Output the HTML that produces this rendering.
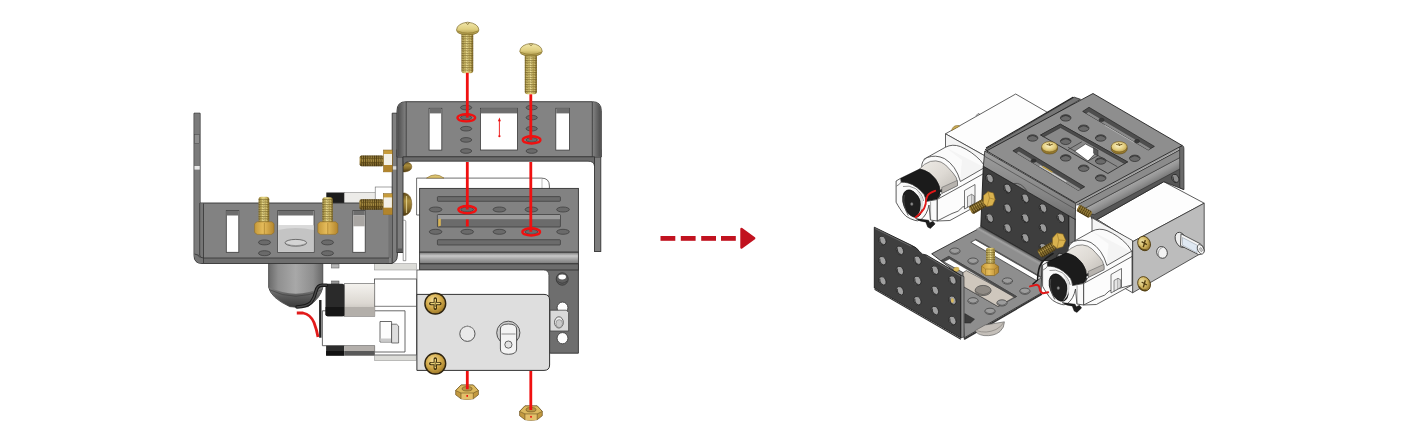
<!DOCTYPE html>
<html lang="en">
<head>
<meta charset="utf-8">
<title>Assembly step</title>
<style>
html,body{margin:0;padding:0;background:#fff;}
body{width:1410px;height:446px;overflow:hidden;font-family:"Liberation Sans",sans-serif;}
svg{display:block;}
</style>
</head>
<body>
<svg width="1410" height="446" viewBox="0 0 1410 446">
<defs>
  <linearGradient id="brassV" x1="0" y1="0" x2="1" y2="0">
    <stop offset="0" stop-color="#86702c"/><stop offset="0.25" stop-color="#d6c46e"/><stop offset="0.5" stop-color="#e6d688"/><stop offset="0.78" stop-color="#c4ae58"/><stop offset="1" stop-color="#7c6526"/>
  </linearGradient>
  <linearGradient id="brassH" x1="0" y1="0" x2="0" y2="1">
    <stop offset="0" stop-color="#5e4a1a"/><stop offset="0.35" stop-color="#a98c3c"/><stop offset="0.65" stop-color="#8a6f2c"/><stop offset="1" stop-color="#4e3b12"/>
  </linearGradient>
  <linearGradient id="nutG" x1="0" y1="0" x2="1" y2="0">
    <stop offset="0" stop-color="#c4983a"/><stop offset="0.45" stop-color="#e6bd5c"/><stop offset="1" stop-color="#b3852c"/>
  </linearGradient>
  <radialGradient id="headG" cx="0.42" cy="0.32" r="0.75">
    <stop offset="0" stop-color="#f0e3a6"/><stop offset="0.55" stop-color="#cdb05a"/><stop offset="1" stop-color="#7e6222"/>
  </radialGradient>
  <radialGradient id="headL" cx="0.45" cy="0.4" r="0.7">
    <stop offset="0" stop-color="#fbf3c8"/><stop offset="0.55" stop-color="#e2cc7c"/><stop offset="1" stop-color="#a98a3a"/>
  </radialGradient>
  <linearGradient id="panG" x1="0" y1="0" x2="0" y2="1">
    <stop offset="0" stop-color="#f2e8ac"/><stop offset="0.55" stop-color="#e0cf80"/><stop offset="1" stop-color="#a89244"/>
  </linearGradient>
  <radialGradient id="headD" cx="0.42" cy="0.35" r="0.75">
    <stop offset="0" stop-color="#f6e09a"/><stop offset="0.5" stop-color="#d0a848"/><stop offset="1" stop-color="#8a661e"/>
  </radialGradient>
  <linearGradient id="motorG" x1="0" y1="0" x2="1" y2="0">
    <stop offset="0" stop-color="#6a6a6a"/><stop offset="0.18" stop-color="#909090"/><stop offset="0.5" stop-color="#a8a8a8"/><stop offset="0.82" stop-color="#8e8e8e"/><stop offset="1" stop-color="#686868"/>
  </linearGradient>
  <linearGradient id="domeG" x1="0" y1="0" x2="0" y2="1">
    <stop offset="0" stop-color="#7e7e7e"/><stop offset="0.5" stop-color="#585858"/><stop offset="1" stop-color="#3a3a3a"/>
  </linearGradient>
  <linearGradient id="bendL" x1="0" y1="0" x2="1" y2="0">
    <stop offset="0" stop-color="#4c4c4c"/><stop offset="1" stop-color="#848484"/>
  </linearGradient>
  <linearGradient id="bendR" x1="1" y1="0" x2="0" y2="0">
    <stop offset="0" stop-color="#4c4c4c"/><stop offset="1" stop-color="#848484"/>
  </linearGradient>
  <linearGradient id="stripG" x1="0" y1="0" x2="0" y2="1">
    <stop offset="0" stop-color="#767676"/><stop offset="0.32" stop-color="#c8c8c8"/><stop offset="0.65" stop-color="#9e9e9e"/><stop offset="1" stop-color="#7a7a7a"/>
  </linearGradient>
  <linearGradient id="canG" x1="0" y1="0" x2="0" y2="1">
    <stop offset="0" stop-color="#f4f2ee"/><stop offset="0.6" stop-color="#dcd8d2"/><stop offset="1" stop-color="#b4b0aa"/>
  </linearGradient>
    <linearGradient id="rcan" x1="0" y1="0" x2="1" y2="1">
    <stop offset="0" stop-color="#eeebe6"/><stop offset="0.5" stop-color="#dedad4"/><stop offset="1" stop-color="#bcb8b2"/>
  </linearGradient>
  <linearGradient id="lipG" x1="0" y1="0" x2="0.35" y2="1">
    <stop offset="0" stop-color="#b2b2b2"/><stop offset="0.5" stop-color="#8c8c8c"/><stop offset="1" stop-color="#5a5a5a"/>
  </linearGradient>
  <linearGradient id="lipG2" gradientUnits="userSpaceOnUse" x1="1100" y1="200.2" x2="1104.75" y2="209.03">
    <stop offset="0" stop-color="#a6a6a6"/><stop offset="0.45" stop-color="#969696"/><stop offset="1" stop-color="#7a7a7a"/>
  </linearGradient>
  <linearGradient id="bendBase" gradientUnits="userSpaceOnUse" x1="1010" y1="243" x2="1007.2" y2="248">
    <stop offset="0" stop-color="#4e4e4e"/><stop offset="0.5" stop-color="#a0a0a0"/><stop offset="1" stop-color="#8e8e8e"/>
  </linearGradient>
  <linearGradient id="bendSW" x1="0.3" y1="0" x2="0" y2="1">
    <stop offset="0" stop-color="#a4a4a4"/><stop offset="0.5" stop-color="#848484"/><stop offset="1" stop-color="#555555"/>
  </linearGradient>
  <pattern id="thr" width="4" height="2.4" patternUnits="userSpaceOnUse">
    <path d="M0 0.5H4" stroke="#5e4c16" stroke-width="0.8" opacity="0.7"/>
    <rect x="0.6" y="1.2" width="1" height="0.9" fill="#6a5418" opacity="0.55"/>
    <rect x="2.4" y="1.4" width="0.9" height="0.8" fill="#fff6c4" opacity="0.55"/>
    <rect x="3.2" y="0.9" width="0.7" height="0.8" fill="#5a4712" opacity="0.5"/>
  </pattern>
  <pattern id="thrH" width="2.2" height="4" patternUnits="userSpaceOnUse">
    <path d="M0.5 0V4" stroke="#3e2e0a" stroke-width="0.9" opacity="0.8"/>
    <rect x="1.2" y="0.5" width="0.8" height="1" fill="#e0c878" opacity="0.65"/>
    <rect x="1.3" y="2.3" width="0.8" height="1" fill="#33260a" opacity="0.6"/>
    <rect x="0.9" y="3.2" width="0.7" height="0.7" fill="#d8bf70" opacity="0.5"/>
  </pattern>
</defs>
<rect width="1410" height="446" fill="#ffffff"/>

<!-- ================= LEFT ASSEMBLY ================= -->
<g id="left">

<!-- gearbox white body behind -->
<g stroke="#4a4a4a" stroke-width="0.8">
  <path d="M416.6 178.1 H541.5 Q549.4 178.1 549.4 186 V215 H416.6Z" fill="#ffffff"/><path d="M542 178.3 V190" fill="none" stroke="#777" stroke-width="0.5"/>
  <rect x="374.5" y="279" width="42" height="76" fill="#ffffff"/>
  <rect x="374.4" y="263.7" width="42.1" height="6.3" fill="#dcdcd8" stroke="#8a8a8a" stroke-width="0.5"/>
  <rect x="374.6" y="355.6" width="41.6" height="5" fill="#dcdcd8" stroke="#8a8a8a" stroke-width="0.5"/>
  <path d="M374.6 306.3 H416.5" fill="none" stroke="#444" stroke-width="0.7"/>
</g>

<!-- motor end (behind left bracket, above plate) -->
<rect x="326.3" y="192.5" width="18" height="11" fill="#1c1c1c"/>
<rect x="344.2" y="192.5" width="48" height="11" fill="#ecebe8" stroke="#777" stroke-width="0.5"/>
<rect x="375.2" y="187" width="17" height="16.5" fill="#fff" stroke="#666" stroke-width="0.6"/>

<!-- round motor under left bracket -->
<path d="M268.6 262 H322.8 V287.3 Q321 298 308 306.6 Q299 308.4 289.6 306.6 Q271 298 268.6 287.3Z" fill="url(#motorG)" stroke="#333" stroke-width="0.7"/>
<path d="M268.9 287.3 Q272 298 289.6 306.4 Q299 308 308 306.4 Q320.5 298 322.5 287.3 Q296 300 268.9 287.3Z" fill="url(#domeG)"/>
<path d="M269 289.5 Q296 303 322.5 289.5" fill="none" stroke="#333" stroke-width="0.6" opacity="0.8"/>
<!-- LEFT U BRACKET -->
<g stroke="#333" stroke-width="0.9">
  <path d="M392.2 113.2 H397.4 V255 Q397.4 263.5 389 263.5 H386 V203 H392.2Z" fill="#7f7f7f"/>
  <path d="M194 113.2 H200.1 V203 H392.2 V263.5 H202 Q194 263.5 194 255.5Z" fill="#828282"/>
</g>
<rect x="194.5" y="113.7" width="5.1" height="143" fill="#7b7b7b"/>
<rect x="199.8" y="203.5" width="3.7" height="54.5" fill="#767676"/>
<rect x="388.4" y="203.5" width="3.6" height="54.5" fill="#727272"/>
<path d="M203.5 258 H389 V263 H203.5Z" fill="#6e6e6e"/>
<path d="M194.6 256 Q195 263 202.5 263 H203.5 V258 Q199.8 258 199.8 254 H194.6Z" fill="#747474"/>
<path d="M199.7 203 V255 Q199.7 258 203.5 258 H389 M203.5 203.5 V263 M194.6 254 Q199 254.5 199.8 257.5" fill="none" stroke="#333" stroke-width="0.8"/>
<!-- wall notches -->
<rect x="194.5" y="134.6" width="5.2" height="9" fill="#8e8e8e" stroke="#444" stroke-width="0.5"/>
<rect x="194.5" y="166" width="5.2" height="3.6" fill="#e8e8e8"/>
<rect x="392.6" y="166.2" width="4" height="3.4" fill="#d9d9d9"/>

<!-- slots of left bracket -->
<g stroke="#3a3a3a" stroke-width="0.8">
  <rect x="226.3" y="210.6" width="12.5" height="41.7" fill="#ffffff"/>
  <rect x="277.7" y="210.6" width="36.3" height="41.7" fill="#ffffff"/>
  <rect x="352.8" y="210.6" width="12.4" height="41.7" fill="#ffffff"/>
</g>
<rect x="226.7" y="211" width="11.7" height="4.5" fill="#6e6e6e"/>
<rect x="278.1" y="211" width="35.5" height="4.5" fill="#6e6e6e"/>
<rect x="353.2" y="211" width="11.6" height="4.5" fill="#6e6e6e"/>
<rect x="353.2" y="215.5" width="11.6" height="10.8" fill="#a9a6a3"/>
<!-- motor top visible through square -->
<rect x="278.1" y="225.4" width="35.5" height="26.5" fill="#c4c4c4"/>
<path d="M278.1 225.4 H313.6 V230 Q296 226 278.1 230Z" fill="#d9d9d9"/>
<ellipse cx="295.8" cy="242.8" rx="10.8" ry="3.4" fill="#d4d4d4" stroke="#555" stroke-width="0.8"/>
<path d="M286 243.8 Q295.8 247.5 305.6 243.8" fill="none" stroke="#8a8a8a" stroke-width="0.7"/>
<!-- small holes -->
<g fill="#6a6a6a" stroke="#3a3a3a" stroke-width="0.7">
  <ellipse cx="264.5" cy="242.4" rx="6" ry="2.5"/>
  <ellipse cx="264.5" cy="253.2" rx="6" ry="2.5"/>
  <ellipse cx="327.5" cy="242.4" rx="6" ry="2.5"/>
  <ellipse cx="327.5" cy="253.2" rx="6" ry="2.5"/>
</g>

<!-- vertical standoffs on left bracket -->
<g id="so1">
  <rect x="258.6" y="196.8" width="10.6" height="26.5" rx="2.5" fill="url(#brassV)"/>
  <rect x="258.6" y="198.5" width="10.6" height="24.5" fill="url(#thr)"/>
  <path d="M254.6 223.8 L257 221.8 H272 L274.1 223.8 V232.4 L271.5 234.4 H257.2 L254.6 232.4Z" fill="url(#nutG)" stroke="#8a6820" stroke-width="0.5"/>
  <path d="M264.3 223 V234" stroke="#9c7424" stroke-width="0.6"/>
</g>
<g id="so2">
  <rect x="322.4" y="197.2" width="10.4" height="26" rx="2.5" fill="url(#brassV)"/>
  <rect x="322.4" y="198.8" width="10.4" height="24.4" fill="url(#thr)"/>
  <path d="M317.8 223.8 L320.2 221.8 H335.6 L337.9 223.8 V232.4 L335.4 234.4 H320.4 L317.8 232.4Z" fill="url(#nutG)" stroke="#8a6820" stroke-width="0.5"/>
  <path d="M327.8 223 V234" stroke="#9c7424" stroke-width="0.6"/>
</g>

<!-- horizontal standoffs through walls -->
<g id="hso1">
  <rect x="359.6" y="155.6" width="24.2" height="10.6" rx="2" fill="url(#brassH)"/>
  <rect x="361" y="155.6" width="22.8" height="10.6" fill="url(#thrH)"/>
  <rect x="383.5" y="150" width="8.8" height="21.9" fill="#c79c3c" stroke="#7c5d1c" stroke-width="0.5"/>
  <rect x="383.8" y="154" width="8.2" height="11" fill="#f3f0e6"/>
  <rect x="383.8" y="165" width="8.2" height="6.6" fill="#b1842c"/>
</g>
<g id="hso2">
  <rect x="359.4" y="199.3" width="24.2" height="10.4" rx="2" fill="url(#brassH)"/>
  <rect x="361" y="199.3" width="22.6" height="10.4" fill="url(#thrH)"/>
  <rect x="383.3" y="193.6" width="8.9" height="21" fill="#c79c3c" stroke="#7c5d1c" stroke-width="0.5"/>
  <rect x="383.6" y="197.4" width="8.3" height="10.4" fill="#f3f0e6"/>
  <rect x="383.6" y="207.8" width="8.3" height="6.6" fill="#b1842c"/>
</g>

<!-- screw heads right of upper bracket left wall -->
<path d="M402.8 161.5 H405 Q411.8 162.5 411.8 166.8 Q411.8 171 405 171.9 H402.8Z" fill="url(#brassH)" stroke="#6a4f16" stroke-width="0.5"/>
<path d="M402.8 193 H405 Q411.8 195 411.8 204.2 Q411.8 213.5 405 215.5 H402.8Z" fill="url(#brassH)" stroke="#6a4f16" stroke-width="0.5"/>
<path d="M406.5 196 V213" stroke="#f4e6a6" stroke-width="1.2" opacity="0.7"/>
<!-- brass dome on top of white body -->
<path d="M426.5 178.1 Q435.3 171.5 444 178.1Z" fill="#dcc471" stroke="#7a5c1c" stroke-width="0.5"/>

<!-- LOWER L BRACKET -->
<g stroke="#333" stroke-width="0.9">
  <!-- column -->
  <path d="M543 264 H578.4 V353.2 H551 Q543 353.2 543 346 Z" fill="#6e6e6e"/>
  <rect x="419.6" y="188.4" width="158.8" height="63.8" fill="#828282"/>
  <rect x="419.6" y="263.7" width="158.8" height="6.3" fill="#6c6c6c"/>
  <rect x="419.6" y="252.2" width="158.8" height="11.5" fill="url(#stripG)"/>
</g>
<!-- lower bracket slots -->
<g fill="#6b6b6b" stroke="#3a3a3a" stroke-width="0.7">
  <rect x="437.4" y="196.6" width="123" height="4.7" rx="0.8"/>
  <rect x="437.4" y="214.6" width="123" height="12.4" rx="0.8"/>
  <rect x="437.4" y="239.7" width="123" height="5.3" rx="0.8"/>
</g>
<rect x="437.8" y="215" width="122.2" height="4.2" fill="#9b9b9b"/>
<path d="M438.2 219.2 L440.8 218.4 L440.8 225.8 L438.2 226.6Z" fill="#d8b455"/>
<g fill="#6a6a6a" stroke="#3a3a3a" stroke-width="0.7">
  <ellipse cx="435.6" cy="209.5" rx="6.3" ry="2.5"/>
  <ellipse cx="467.2" cy="209.5" rx="6.3" ry="2.5"/>
  <ellipse cx="499.4" cy="209.5" rx="6.3" ry="2.5"/>
  <ellipse cx="531.4" cy="209.5" rx="6.3" ry="2.5"/>
  <ellipse cx="563" cy="209.5" rx="6.3" ry="2.5"/>
  <ellipse cx="435.6" cy="231.8" rx="6.3" ry="2.5"/>
  <ellipse cx="467.2" cy="231.8" rx="6.3" ry="2.5"/>
  <ellipse cx="499.4" cy="231.8" rx="6.3" ry="2.5"/>
  <ellipse cx="531.4" cy="231.8" rx="6.3" ry="2.5"/>
  <ellipse cx="563" cy="231.8" rx="6.3" ry="2.5"/>
</g>
<!-- column holes -->
<g stroke="#333" stroke-width="0.8">
  <ellipse cx="562.2" cy="279" rx="6" ry="6.2" fill="#5e5e5e"/>
  <ellipse cx="562.2" cy="277" rx="3.8" ry="2.4" fill="#fff" stroke="none"/>
  <path d="M557.2 281 Q562.2 285.5 567.2 281" fill="none" stroke="#333" stroke-width="0.7"/>
  <ellipse cx="562.5" cy="307.7" rx="5.4" ry="5.6" fill="#fff"/>
  <ellipse cx="562.5" cy="338.2" rx="5.4" ry="5.6" fill="#fff"/>
</g>
<!-- tab -->
<path d="M550 310.2 H566.5 L568.6 312.5 V331 H550Z" fill="#d9d9d9" stroke="#444" stroke-width="0.8"/>
<ellipse cx="558.9" cy="322.4" rx="4.4" ry="5.6" fill="#efefef" stroke="#444" stroke-width="0.8"/>
<ellipse cx="559.2" cy="323.6" rx="3.3" ry="4" fill="#c9c9c9" stroke="#666" stroke-width="0.5"/>

<!-- gearbox white top (behind plate) -->
<path d="M416.9 270 H543.5 Q548.9 270 548.9 275.5 V296 H416.9Z" fill="#ffffff" stroke="#444" stroke-width="0.8"/>

<!-- motor 2 (horizontal) -->
<path d="M322.4 310.8 H405 V352 H374.6 V345.7 H322.4Z" fill="#ffffff" stroke="#444" stroke-width="0.8"/>
<rect x="331.5" y="264" width="7.5" height="4" fill="#b5b5b5" stroke="#555" stroke-width="0.5"/>
<rect x="331.7" y="281" width="7.3" height="3" fill="#9a9a9a" stroke="#444" stroke-width="0.5"/>
<rect x="344.3" y="283.7" width="30.5" height="32.5" fill="url(#canG)" stroke="#555" stroke-width="0.6"/>
<rect x="344.3" y="307" width="30.5" height="9.2" fill="#b3afaa"/>
<rect x="325.5" y="283.7" width="18.8" height="32.5" rx="2" fill="#2a2a2a"/>
<path d="M325.5 307 H344.3 V316.2 H327.5 Q325.5 316.2 325.5 314.2Z" fill="#161616"/>
<rect x="326.1" y="345.7" width="18.2" height="9.9" fill="#2c2c2c"/>
<rect x="326.1" y="351" width="18.2" height="4.6" fill="#111111"/>
<rect x="344.3" y="345.7" width="30.3" height="9.9" fill="#b3afab"/>
<rect x="344.3" y="351" width="30.3" height="4.6" fill="#595959"/>
<path d="M320.3 300 V337.7" stroke="#222" stroke-width="2.4" fill="none"/>
<!-- connector -->
<path d="M380 321.5 H391.6 V342 H380Z" fill="#fdfdfd" stroke="#444" stroke-width="0.8"/><rect x="380.5" y="338.5" width="10.6" height="3.2" fill="#c9c9c9"/><path d="M391.6 324.2 H396.5 L398.6 326 V343 H391.6Z" fill="#dedede" stroke="#444" stroke-width="0.7"/>
<!-- wires -->
<path d="M297 307 Q307 306.5 311 302.5 Q314.5 298 316 291 Q317.5 285.3 322 285.2 H326.5" fill="none" stroke="#1a1a1a" stroke-width="3.4" stroke-linecap="round"/>
<path d="M297 307 Q307 306.5 311 302.5 Q314.5 298 316 291 Q317.5 285.3 322 285.2 H326.5" fill="none" stroke="#4a4a4a" stroke-width="1.3" stroke-linecap="round"/>
<path d="M296.8 313 H303 Q310.5 314.5 314 322.5 Q316.8 330 318 337" fill="none" stroke="#e21b1b" stroke-width="2.8"/>
<!-- gearbox front plate -->
<path d="M416.9 294.4 H544 Q549.6 294.4 549.6 300 V365 Q549.6 370.4 544 370.4 H416.9Z" fill="#dedede" stroke="#333" stroke-width="1"/>
<circle cx="467.4" cy="333.8" r="7.6" fill="#e9e9e9" stroke="#444" stroke-width="0.9"/>
<path d="M461 330 A7.6 7.6 0 0 1 474 330" fill="none" stroke="#9a9a9a" stroke-width="1"/>
<circle cx="508.3" cy="332.8" r="11.6" fill="#cfcfcf" stroke="#444" stroke-width="0.9"/>
<path d="M500.4 329 Q500.4 324 508.3 324 Q516.6 324 516.6 329 V349 Q516.6 354.3 508.5 354.3 Q500.4 354.3 500.4 349Z" fill="#f3f3f3" stroke="#444" stroke-width="0.9"/>
<path d="M501.5 334 H515.5" stroke="#666" stroke-width="0.7"/>
<circle cx="508.4" cy="344.6" r="3.6" fill="#e2e2e2" stroke="#444" stroke-width="0.8"/>
<!-- brass screws on plate -->
<g id="ps1">
  <circle cx="435.3" cy="303.6" r="10.4" fill="url(#headD)" stroke="#2e2410" stroke-width="1.4"/>
  <path d="M435.3 299.0 V308.20000000000005 M430.7 303.6 H439.90000000000003" stroke="#3a2c0c" stroke-width="3.4" stroke-linecap="round"/>
  <path d="M435.3 299.40000000000003 V307.8 M431.1 303.6 H439.5" stroke="#e9d27a" stroke-width="1.5" stroke-linecap="round"/>
  <path d="M435.3 301.6 V307.0" stroke="#5a4614" stroke-width="0.7"/>
</g>
<g id="ps2">
  <circle cx="435.3" cy="363.6" r="10.4" fill="url(#headD)" stroke="#2e2410" stroke-width="1.4"/>
  <path d="M435.3 359.0 V368.20000000000005 M430.7 363.6 H439.90000000000003" stroke="#3a2c0c" stroke-width="3.4" stroke-linecap="round"/>
  <path d="M435.3 359.40000000000003 V367.8 M431.1 363.6 H439.5" stroke="#e9d27a" stroke-width="1.5" stroke-linecap="round"/>
  <path d="M435.3 361.6 V367.0" stroke="#5a4614" stroke-width="0.7"/>
</g>

<!-- UPPER INVERTED U BRACKET -->
<g stroke="#333" stroke-width="0.9">
  <!-- right wall -->
  <rect x="594.5" y="150" width="6.3" height="101.5" fill="#7d7d7d"/>
  <!-- left wall -->
  <rect x="397" y="150" width="6" height="102.5" fill="#7d7d7d"/>
  <path d="M397 157 V110.7 Q397 101.7 406 101.7 H592.3 Q601.3 101.7 601.3 110.7 V157 Z" fill="#838383"/>
</g>
<path d="M397.5 156.5 V110.7 Q397.5 102.2 406.2 102.2 V156.5Z" fill="url(#bendL)"/>
<path d="M600.8 156.5 V110.7 Q600.8 102.2 592.3 102.2 V156.5Z" fill="url(#bendR)"/>
<path d="M406.2 102 V157 M592.3 102 V157" stroke="#333" stroke-width="0.8"/>
<path d="M403 156.8 H594.5 V166 Q594 161.2 588 161.2 H411 Q405 161.2 403.2 166 Z" fill="#6a6a6a" stroke="#333" stroke-width="0.8"/>
<path d="M397 252.5 H403" stroke="#333" stroke-width="0.8"/>
<path d="M403.2 220.3 H404.6 Q405.8 220.3 405.8 221.6 V260.7 H403.2Z" fill="#ffffff" stroke="#555" stroke-width="0.6"/>
<rect x="397.6" y="248.5" width="5" height="3.6" fill="#5a5a5a"/>
<!-- slots -->
<g stroke="#3a3a3a" stroke-width="0.8" fill="#fff">
  <rect x="429.1" y="108.3" width="12.7" height="41.8"/>
  <rect x="480.4" y="108.3" width="37" height="41.7"/>
  <rect x="555.8" y="108.3" width="13.6" height="41.8"/>
</g>
<rect x="429.5" y="108.7" width="11.9" height="4.7" fill="#6e6e6e"/>
<rect x="480.8" y="108.7" width="36.2" height="4.7" fill="#6e6e6e"/>
<rect x="556.2" y="108.7" width="12.8" height="4.7" fill="#6e6e6e"/>
<g fill="#6a6a6a" stroke="#3a3a3a" stroke-width="0.7">
  <ellipse cx="466.1" cy="107.6" rx="5.6" ry="2.3"/>
  <ellipse cx="466.1" cy="117.6" rx="5.6" ry="2.3"/>
  <ellipse cx="466.1" cy="128.7" rx="5.6" ry="2.3"/>
  <ellipse cx="466.1" cy="139.9" rx="5.6" ry="2.3"/>
  <ellipse cx="466.1" cy="151" rx="5.6" ry="2.3"/>
  <ellipse cx="531.7" cy="107.6" rx="5.6" ry="2.3"/>
  <ellipse cx="531.7" cy="117.6" rx="5.6" ry="2.3"/>
  <ellipse cx="531.7" cy="128.7" rx="5.6" ry="2.3"/>
  <ellipse cx="531.7" cy="139.9" rx="5.6" ry="2.3"/>
  <ellipse cx="531.7" cy="151" rx="5.6" ry="2.3"/>
</g>

<!-- top screws -->
<g id="ts1">
  <path d="M461.5 33 H473.2 V70.5 Q473.2 73.3 470.5 73.3 H464.2 Q461.5 73.3 461.5 70.5Z" fill="url(#brassV)"/>
  <path d="M461.5 35 H473.2 V72 H461.5Z" fill="url(#thr)"/>
  <path d="M456.5 30 Q457 23.4 467.7 22.2 Q478.5 23.4 478.9 30 Q478.9 33 474 34.2 Q467.7 35.4 461.5 34.2 Q456.5 33 456.5 30Z" fill="url(#panG)" stroke="#7d6a28" stroke-width="0.7"/>
  <path d="M457.5 31 Q467.7 35.5 478 31" fill="none" stroke="#8f7a30" stroke-width="0.9" opacity="0.8"/>
  <path d="M466 22.6 L467.7 24.6 L469.4 22.6" fill="none" stroke="#6e5a1e" stroke-width="0.7"/>
</g>
<g id="ts2">
  <path d="M524.8 54.5 H536.9 V91.5 Q536.9 94.3 534.2 94.3 H527.5 Q524.8 94.3 524.8 91.5Z" fill="url(#brassV)"/>
  <path d="M524.8 56.5 H536.9 V93 H524.8Z" fill="url(#thr)"/>
  <path d="M519.8 51.3 Q520.3 44.6 531 43.4 Q541.8 44.6 542.2 51.3 Q542.2 54.3 537.3 55.5 Q531 56.7 524.8 55.5 Q519.8 54.3 519.8 51.3Z" fill="url(#panG)" stroke="#7d6a28" stroke-width="0.7"/>
  <path d="M520.8 52.3 Q531 56.8 541.3 52.3" fill="none" stroke="#8f7a30" stroke-width="0.9" opacity="0.8"/>
  <path d="M529.3 43.8 L531 45.8 L532.7 43.8" fill="none" stroke="#6e5a1e" stroke-width="0.7"/>
</g>

<!-- bottom nuts -->
<g id="bn1" transform="translate(0 0)">
  <path d="M455.7 390.5 L461 385 H473.3 L478.4 390.5 V394.8 L473.3 398.8 Q467 400 461 398.8 L455.7 394.8Z" fill="#c39a40" stroke="#6a5020" stroke-width="0.7" stroke-linejoin="round"/>
  <path d="M461 393 H473.3 V398.8 Q467 400 461 398.8Z" fill="#e4c06a"/>
  <path d="M455.7 390.5 L461 385 H473.3 L478.4 390.5 L473.3 393 H461Z" fill="#dcb95e" stroke="#6a5020" stroke-width="0.6" stroke-linejoin="round"/>
  <ellipse cx="467.1" cy="388.8" rx="5" ry="2.2" fill="#b89444" stroke="#6a5020" stroke-width="0.6"/>
  <path d="M461 393 V398.8 M473.3 393 V398.8" fill="none" stroke="#6a5020" stroke-width="0.6"/>
</g>
<g id="bn2" transform="translate(63.9 20.9)">
  <path d="M455.7 390.5 L461 385 H473.3 L478.4 390.5 V394.8 L473.3 398.8 Q467 400 461 398.8 L455.7 394.8Z" fill="#c39a40" stroke="#6a5020" stroke-width="0.7" stroke-linejoin="round"/>
  <path d="M461 393 H473.3 V398.8 Q467 400 461 398.8Z" fill="#e4c06a"/>
  <path d="M455.7 390.5 L461 385 H473.3 L478.4 390.5 L473.3 393 H461Z" fill="#dcb95e" stroke="#6a5020" stroke-width="0.6" stroke-linejoin="round"/>
  <ellipse cx="467.1" cy="388.8" rx="5" ry="2.2" fill="#b89444" stroke="#6a5020" stroke-width="0.6"/>
  <path d="M461 393 V398.8 M473.3 393 V398.8" fill="none" stroke="#6a5020" stroke-width="0.6"/>
</g>

<!-- red guides -->
<g stroke="#f01010" stroke-width="2.8" fill="none">
  <path d="M467.3 72.8 V117.6"/>
  <path d="M467.3 162 V209.5"/>
  <path d="M467.3 219.5 V226.5"/>
  <path d="M467.3 371 V389.2"/>
  <path d="M530.8 94.3 V139.9"/>
  <path d="M530.8 162 V231.8"/>
  <path d="M530.8 371 V410"/>
  <ellipse cx="466.3" cy="117.8" rx="8.8" ry="3.6" stroke-width="2.4"/>
  <ellipse cx="531.6" cy="139.9" rx="8.8" ry="3.6" stroke-width="2.4"/>
  <ellipse cx="467.2" cy="209.6" rx="8.8" ry="3.6" stroke-width="2.4"/>
  <ellipse cx="531.2" cy="231.9" rx="8.8" ry="3.6" stroke-width="2.4"/>
</g>
<path d="M499.4 120.5 V135" stroke="#ec1212" stroke-width="0.9"/>
<path d="M499.4 117.4 L500.9 121.3 H497.9Z" fill="#ec1212"/>
<circle cx="499.4" cy="136.2" r="1.1" fill="#ec1212"/>
<rect x="466.4" y="395" width="1.6" height="1.8" fill="#ec1212"/>
<rect x="530.2" y="415.9" width="1.6" height="1.8" fill="#ec1212"/>
</g>

<!-- ================= ARROW ================= -->
<g fill="#c1121f">
  <rect x="660.5" y="236" width="14.8" height="4.8"/>
  <rect x="680.8" y="236" width="14.8" height="4.8"/>
  <rect x="701.2" y="236" width="14.8" height="4.8"/>
  <rect x="721" y="236" width="14.8" height="4.8"/>
  <path d="M741.5 229 L754.2 238.3 L741.5 247.6Z" stroke="#c1121f" stroke-width="2.4" stroke-linejoin="round"/>
</g>

<!-- ================= RIGHT ASSEMBLY ================= -->
<g id="right">
<path d="M945.5 133.8 L1015.7 94.0 L1052.0 115.0 L1052.0 160.0 L986.0 160.0 L986.0 156.5Z" fill="#fdfdfd" stroke="#3a3a3a" stroke-width="0.8" stroke-linejoin="round" />
<path d="M951.5 130.6 Q953 124.6 959 125.6 L959.6 126.2Z" fill="#c9aa55" stroke="#7a6020" stroke-width="0.5"/>
<path d="M976 115.8 L978 113.6 L980 114.4" fill="none" stroke="#444" stroke-width="0.7"/>

<g id="mot">
<path d="M945.5 133.8 L986 156.5 V176 L958 186 L945.5 160Z" fill="#f4f4f4" stroke="#3a3a3a" stroke-width="0.8"/>
<path d="M923.6 159.4 L945.5 147.2 L962 160 L960 182 L922 169Z" fill="#fbfbfb"/>
<path d="M923.6 159.4 L945.5 147.2" fill="none" stroke="#3a3a3a" stroke-width="0.8"/>
<path d="M945.5 147.2 Q952.5 143.6 960.5 146.6 Q972 151.5 980.6 160.6 Q983.5 164 985.5 168" fill="#fbfbfb" stroke="#3a3a3a" stroke-width="0.8"/>
<path d="M921.8 168 Q921 161 927 157.6 Q935.5 154.3 944.5 158.6 Q956 165.5 960.4 181.5 L985.5 167 V201 L949.9 220.5 L937.1 221 L929 200 Z" fill="#fbfbfb" stroke="#3a3a3a" stroke-width="0.8"/>
<path d="M919.6 169 Q924 163.5 930.4 161.4 Q936 160 941.1 162.1 Q946 164.5 949.2 168.8 Q953.5 173 956.2 177.6 L957.5 182.5 V185.6 L941.8 193.4 L939.8 191.9 L939.3 186.5 Q938 183 935.7 179.3 Q933 176 929.5 173.1 Q925 170 919.6 169Z" fill="url(#rcan)" stroke="#444" stroke-width="0.6"/>
<path d="M941.8 187.4 L957.4 180.4 L957.6 185.6 L941.8 193.4Z" fill="#b7b3ae" stroke="#555" stroke-width="0.5"/>
<path d="M939.5 190 L941.8 189 V193.2 L939.5 197.5 L937 199Z" fill="#3a3a3a"/>
<path d="M940 192 H941.6 V194 H940Z" fill="#d8d8d8"/>
<path d="M900.6 178.3 L919.6 169 Q925 170 929.5 173.1 Q933 176 935.7 179.3 Q938 183 939.3 186.5 L939.8 191.9 L937.1 199 L926 201.5 Q925.6 197.5 924.1 194.6 Q921 190.5 916.9 187.4 Q912.5 184 907.9 182.9 Q904 182 901.2 182.2 Z" fill="#1b1b1b" stroke="#000" stroke-width="0.5"/>
<path d="M937.1 199.5 L962.6 185.4 L985.5 172.5 V201 L962.6 207 Q959 212 952 213.5 L949.9 214.5 L937.1 221Z" fill="#fcfcfc" stroke="#3a3a3a" stroke-width="0.8"/>
<path d="M896.1 181 L900.6 178.3 L901.2 182.2 Q904 182 907.9 182.9 Q912.5 184 916.9 187.4 Q921 190.5 924.1 194.6 Q925.6 197.5 926 201.5 L937.1 199.5 V221 L930.4 220 L929 205 Q927 215 921 219.6 Q917 221.6 914.9 220.4 Q910 219 906.1 216.3 Q902.5 213 900.1 208.9 Q897.5 205 896.1 202.2Z" fill="#fafafa" stroke="#333" stroke-width="0.8"/>
<path d="M896.6 186 Q900 184.5 901.5 181.5" fill="none" stroke="#333" stroke-width="0.6"/>
<path d="M903 186.5 Q909 184.8 915.5 188.6 Q922 193.5 923.6 201" fill="none" stroke="#555" stroke-width="0.6"/>
<ellipse cx="912.2" cy="203.6" rx="8.6" ry="14.4" fill="#1f1f1f" stroke="#000" stroke-width="0.6" transform="rotate(-22 912.2 203.6)"/>
<path d="M916.5 190.5 Q922.5 199 920 210.5 Q918 216 915 217.8 Q921.5 214 923 205 Q923.8 196 916.5 190.5Z" fill="#dcdcdc"/>
<path d="M904.2 195 Q902.4 205.5 908.3 215.5" fill="none" stroke="#4c4c4c" stroke-width="0.9"/>
<ellipse cx="911.8" cy="204" rx="1.3" ry="1.5" fill="#8c8c8c" stroke="#555" stroke-width="0.4"/>
<path d="M930.6 201.5 L930.6 219.5" fill="none" stroke="#555" stroke-width="0.5"/>
<path d="M964.5 190.5 L975 184.5 V203 L964.5 209Z" fill="#f7f7f7" stroke="#3a3a3a" stroke-width="0.7"/>
<path d="M967.5 196.5 L971.5 194.3 V205 L967.5 207.2Z" fill="#e6e6e6" stroke="#444" stroke-width="0.6"/>
<path d="M971.5 194.3 L974.3 195.9 V203.4 L971.5 205" fill="#d6d6d6" stroke="#444" stroke-width="0.6"/>
<path d="M915.6 218.6 Q921 222.3 925.7 221.9 L927.7 227.1 L930.4 228.4 L935.1 223.9 L933 221.2 L929.8 222.7 L928.6 220.2Z" fill="#1e1e1e" stroke="#000" stroke-width="0.4"/>
</g>

<path d="M935.1 190.8 Q929.5 192.8 927.6 195.4 Q925.8 199 925.6 204.2 Q924.5 209 921.6 211.8 Q918.8 215 915.6 217.2" fill="none" stroke="#e11818" stroke-width="1.9" stroke-linecap="round"/>
<path d="M931.7 253.8 L982.0 226.9 L1042.0 261.5 L1041.0 293.3 L964.0 338.0 L962.0 277.0Z" fill="#8e8e8e" stroke="#2a2a2a" stroke-width="0.9" stroke-linejoin="round" />
<path d="M964.5 338.9 L1041.5 294.3" fill="none" stroke="#333" stroke-width="1.7" stroke-linejoin="round" stroke-linecap="round" />
<path d="M975.2 330.6 Q977 334.5 984 335.6 Q994 336.4 1000 331.5 Q1004.5 327.5 1004.4 321.8 L985 325Z" fill="#c4bfb9" stroke="#555" stroke-width="0.6"/>
<path d="M976.5 330.6 Q986 334 996 329.5 Q1001.5 326.5 1003.6 322.5" fill="none" stroke="#8e8a85" stroke-width="0.8"/>
<path d="M970.8 242.3 L975.8 239.6 L1041.6 277.6 L1036.6 280.6Z" fill="#ffffff" stroke="#2e2e2e" stroke-width="0.7" stroke-linejoin="round" />
<path d="M975.8 239.6 L1041.6 277.6" fill="none" stroke="#555" stroke-width="1.6" stroke-linejoin="round" stroke-linecap="round" />
<path d="M941.4 260.5 L948.8 256.4 L1016.5 296.5 L998.0 306.5 L963.6 286.7 L963.0 272.6Z" fill="#ffffff" stroke="#2a2a2a" stroke-width="0.7" stroke-linejoin="round" />
<path d="M963.0 272.6 L966.3 270.6 L1014.8 296.8 L998.0 306.5 L963.6 286.7Z" fill="#cfc7bd" stroke="#333" stroke-width="0.6" stroke-linejoin="round" />
<path d="M941.4 260.5 L948.8 256.4 L1016.5 296.5 L1014.6 297.6 L949.4 259.0 L943.5 262.0Z" fill="#4e4e4e" stroke="#2a2a2a" stroke-width="0.4" stroke-linejoin="round" />
<ellipse cx="956.2" cy="269.4" rx="2.8" ry="2.1" fill="#d9bc5c" stroke="#7a5c1c" stroke-width="0.4"/>
<ellipse cx="983.1" cy="290.5" rx="8" ry="5.1" fill="#8f8a84" stroke="#444" stroke-width="0.7" />
<path d="M975.4 291.2 Q983 298 990.8 291.2" fill="none" stroke="#6a6661" stroke-width="0.9"/>
<path d="M964.8 313.6 L974.5 319.2 L970.5 323.0 L964.8 323.0Z" fill="#3c3c3c" stroke="#222" stroke-width="0.5" stroke-linejoin="round" />
<ellipse cx="954.9" cy="251.1" rx="5.2" ry="3.1" fill="#9c9c9c" stroke="#3a3a3a" stroke-width="0.7" />
<path d="M950.5 251.5 Q954.9 255.5 959.3 251.5" fill="none" stroke="#5a5a5a" stroke-width="0.9"/>
<ellipse cx="973.0" cy="261.1" rx="5.2" ry="3.1" fill="#9c9c9c" stroke="#3a3a3a" stroke-width="0.7" />
<path d="M968.6 261.5 Q973.0 265.5 977.4 261.5" fill="none" stroke="#5a5a5a" stroke-width="0.9"/>
<ellipse cx="1007.4" cy="281.0" rx="5.2" ry="3.1" fill="#9c9c9c" stroke="#3a3a3a" stroke-width="0.7" />
<path d="M1003.0 281.4 Q1007.4 285.4 1011.8 281.4" fill="none" stroke="#5a5a5a" stroke-width="0.9"/>
<ellipse cx="1024.9" cy="291.2" rx="5.2" ry="3.1" fill="#9c9c9c" stroke="#3a3a3a" stroke-width="0.7" />
<path d="M1020.5 291.6 Q1024.9 295.6 1029.3 291.6" fill="none" stroke="#5a5a5a" stroke-width="0.9"/>
<ellipse cx="973.0" cy="300.8" rx="5.2" ry="3.1" fill="#9c9c9c" stroke="#3a3a3a" stroke-width="0.7" />
<path d="M968.6 301.2 Q973.0 305.2 977.4 301.2" fill="none" stroke="#5a5a5a" stroke-width="0.9"/>
<ellipse cx="990.0" cy="311.3" rx="5.2" ry="3.1" fill="#9c9c9c" stroke="#3a3a3a" stroke-width="0.7" />
<path d="M985.6 311.7 Q990.0 315.7 994.4 311.7" fill="none" stroke="#5a5a5a" stroke-width="0.9"/>
<ellipse cx="1002.0" cy="302.9" rx="5.2" ry="3.1" fill="#9c9c9c" stroke="#3a3a3a" stroke-width="0.7" />
<path d="M997.6 303.3 Q1002.0 307.3 1006.4 303.3" fill="none" stroke="#5a5a5a" stroke-width="0.9"/>
<path d="M874.3 227.2 L911.1 245.1 Q917 247.5 919.5 251.5 Q922 255 926.4 255 L961 275.3 V338 L874.3 288Z" fill="#3f3f3f" stroke="#1c1c1c" stroke-width="0.9" stroke-linejoin="round"/>
<path d="M961 275.3 L964 276.6 V336.8 L961 338Z" fill="#8c8c8c" stroke="#222" stroke-width="0.6"/>
<path d="M875.2 228.6 L911.0 246.2" fill="none" stroke="#7a7a7a" stroke-width="0.7" stroke-linejoin="round" stroke-linecap="round" />
<path d="M927.0 256.3 L960.5 276.2" fill="none" stroke="#7a7a7a" stroke-width="0.7" stroke-linejoin="round" stroke-linecap="round" />
<path d="M875.0 289.5 L960.5 339.0" fill="none" stroke="#333" stroke-width="1.2" stroke-linejoin="round" stroke-linecap="round" />
<ellipse cx="882.4" cy="240.6" rx="3.4" ry="4.5" fill="#a0a0a0" stroke="#1e1e1e" stroke-width="0.7" transform="rotate(-18 882.4 240.6)" />
<path d="M879.8 238.4 Q879.4 243.6 883.4 244.6" fill="none" stroke="#333" stroke-width="1.1"/>
<ellipse cx="882.4" cy="260.8" rx="3.4" ry="4.5" fill="#a0a0a0" stroke="#1e1e1e" stroke-width="0.7" transform="rotate(-18 882.4 260.8)" />
<path d="M879.8 258.6 Q879.4 263.8 883.4 264.8" fill="none" stroke="#333" stroke-width="1.1"/>
<ellipse cx="882.4" cy="281.0" rx="3.4" ry="4.5" fill="#a0a0a0" stroke="#1e1e1e" stroke-width="0.7" transform="rotate(-18 882.4 281.0)" />
<path d="M879.8 278.8 Q879.4 284.0 883.4 285.0" fill="none" stroke="#333" stroke-width="1.1"/>
<ellipse cx="899.9" cy="250.5" rx="3.4" ry="4.5" fill="#a0a0a0" stroke="#1e1e1e" stroke-width="0.7" transform="rotate(-18 899.9 250.5)" />
<path d="M897.3 248.3 Q896.9 253.5 900.9 254.5" fill="none" stroke="#333" stroke-width="1.1"/>
<ellipse cx="899.9" cy="270.7" rx="3.4" ry="4.5" fill="#a0a0a0" stroke="#1e1e1e" stroke-width="0.7" transform="rotate(-18 899.9 270.7)" />
<path d="M897.3 268.5 Q896.9 273.7 900.9 274.7" fill="none" stroke="#333" stroke-width="1.1"/>
<ellipse cx="899.9" cy="290.9" rx="3.4" ry="4.5" fill="#a0a0a0" stroke="#1e1e1e" stroke-width="0.7" transform="rotate(-18 899.9 290.9)" />
<path d="M897.3 288.7 Q896.9 293.9 900.9 294.9" fill="none" stroke="#333" stroke-width="1.1"/>
<ellipse cx="917.4" cy="260.4" rx="3.4" ry="4.5" fill="#a0a0a0" stroke="#1e1e1e" stroke-width="0.7" transform="rotate(-18 917.4 260.4)" />
<path d="M914.8 258.2 Q914.4 263.4 918.4 264.4" fill="none" stroke="#333" stroke-width="1.1"/>
<ellipse cx="917.4" cy="280.6" rx="3.4" ry="4.5" fill="#a0a0a0" stroke="#1e1e1e" stroke-width="0.7" transform="rotate(-18 917.4 280.6)" />
<path d="M914.8 278.4 Q914.4 283.6 918.4 284.6" fill="none" stroke="#333" stroke-width="1.1"/>
<ellipse cx="917.4" cy="300.8" rx="3.4" ry="4.5" fill="#a0a0a0" stroke="#1e1e1e" stroke-width="0.7" transform="rotate(-18 917.4 300.8)" />
<path d="M914.8 298.6 Q914.4 303.8 918.4 304.8" fill="none" stroke="#333" stroke-width="1.1"/>
<ellipse cx="934.9" cy="270.3" rx="3.4" ry="4.5" fill="#a0a0a0" stroke="#1e1e1e" stroke-width="0.7" transform="rotate(-18 934.9 270.3)" />
<path d="M932.3 268.1 Q931.9 273.3 935.9 274.3" fill="none" stroke="#333" stroke-width="1.1"/>
<ellipse cx="934.9" cy="290.5" rx="3.4" ry="4.5" fill="#a0a0a0" stroke="#1e1e1e" stroke-width="0.7" transform="rotate(-18 934.9 290.5)" />
<path d="M932.3 288.3 Q931.9 293.5 935.9 294.5" fill="none" stroke="#333" stroke-width="1.1"/>
<ellipse cx="934.9" cy="310.7" rx="3.4" ry="4.5" fill="#a0a0a0" stroke="#1e1e1e" stroke-width="0.7" transform="rotate(-18 934.9 310.7)" />
<path d="M932.3 308.5 Q931.9 313.7 935.9 314.7" fill="none" stroke="#333" stroke-width="1.1"/>
<ellipse cx="952.4" cy="280.2" rx="3.4" ry="4.5" fill="#a0a0a0" stroke="#1e1e1e" stroke-width="0.7" transform="rotate(-18 952.4 280.2)" />
<path d="M949.8 278.0 Q949.4 283.2 953.4 284.2" fill="none" stroke="#333" stroke-width="1.1"/>
<ellipse cx="952.4" cy="300.4" rx="3.4" ry="4.5" fill="#a0a0a0" stroke="#1e1e1e" stroke-width="0.7" transform="rotate(-18 952.4 300.4)" />
<path d="M949.8 298.2 Q949.4 303.4 953.4 304.4" fill="none" stroke="#333" stroke-width="1.1"/>
<ellipse cx="952.4" cy="320.6" rx="3.4" ry="4.5" fill="#a0a0a0" stroke="#1e1e1e" stroke-width="0.7" transform="rotate(-18 952.4 320.6)" />
<path d="M949.8 318.4 Q949.4 323.6 953.4 324.6" fill="none" stroke="#333" stroke-width="1.1"/>
<ellipse cx="952.4" cy="300.5" rx="1.4" ry="2.2" fill="#d8b85a"/>
<ellipse cx="957" cy="268.7" rx="2.2" ry="1.4" fill="#d8b85a"/>
<path d="M983.3 166.0 L1069.0 215.6 L1069.0 262.0 L1040.7 260.4 L980.8 226.3Z" fill="#3e3e3e" stroke="#1a1a1a" stroke-width="0.9" stroke-linejoin="round" />
<path d="M1069.0 215.6 L1074.6 218.9 L1074.6 262.0 L1069.0 262.0Z" fill="#7a7a7a" stroke="#1e1e1e" stroke-width="0.6" stroke-linejoin="round" />
<path d="M980.8 226.3 L1040.7 260.4 L1040.7 266.0 L976.0 229.0Z" fill="url(#bendBase)" stroke="none" stroke-width="0" stroke-linejoin="round" />
<path d="M980.8 226.3 L1040.7 260.4" fill="none" stroke="#2a2a2a" stroke-width="0.7" stroke-linejoin="round" stroke-linecap="round" />
<ellipse cx="989.6" cy="178.6" rx="3.5" ry="4.6" fill="#9a9a9a" stroke="#1a1a1a" stroke-width="0.7" transform="rotate(-18 989.6 178.6)" />
<path d="M986.9 176.4 Q986.6 181.6 990.6 182.7" fill="none" stroke="#2c2c2c" stroke-width="1.1"/>
<ellipse cx="989.6" cy="198.4" rx="3.5" ry="4.6" fill="#9a9a9a" stroke="#1a1a1a" stroke-width="0.7" transform="rotate(-18 989.6 198.4)" />
<path d="M986.9 196.2 Q986.6 201.4 990.6 202.5" fill="none" stroke="#2c2c2c" stroke-width="1.1"/>
<ellipse cx="989.6" cy="218.2" rx="3.5" ry="4.6" fill="#9a9a9a" stroke="#1a1a1a" stroke-width="0.7" transform="rotate(-18 989.6 218.2)" />
<path d="M986.9 216.0 Q986.6 221.2 990.6 222.3" fill="none" stroke="#2c2c2c" stroke-width="1.1"/>
<ellipse cx="1007.4" cy="188.5" rx="3.5" ry="4.6" fill="#9a9a9a" stroke="#1a1a1a" stroke-width="0.7" transform="rotate(-18 1007.4 188.5)" />
<path d="M1004.7 186.3 Q1004.4 191.5 1008.4 192.6" fill="none" stroke="#2c2c2c" stroke-width="1.1"/>
<ellipse cx="1007.4" cy="208.3" rx="3.5" ry="4.6" fill="#9a9a9a" stroke="#1a1a1a" stroke-width="0.7" transform="rotate(-18 1007.4 208.3)" />
<path d="M1004.7 206.1 Q1004.4 211.3 1008.4 212.4" fill="none" stroke="#2c2c2c" stroke-width="1.1"/>
<ellipse cx="1007.4" cy="228.1" rx="3.5" ry="4.6" fill="#9a9a9a" stroke="#1a1a1a" stroke-width="0.7" transform="rotate(-18 1007.4 228.1)" />
<path d="M1004.7 225.9 Q1004.4 231.1 1008.4 232.2" fill="none" stroke="#2c2c2c" stroke-width="1.1"/>
<ellipse cx="1025.2" cy="198.4" rx="3.5" ry="4.6" fill="#9a9a9a" stroke="#1a1a1a" stroke-width="0.7" transform="rotate(-18 1025.2 198.4)" />
<path d="M1022.5 196.2 Q1022.2 201.4 1026.2 202.5" fill="none" stroke="#2c2c2c" stroke-width="1.1"/>
<ellipse cx="1025.2" cy="218.2" rx="3.5" ry="4.6" fill="#9a9a9a" stroke="#1a1a1a" stroke-width="0.7" transform="rotate(-18 1025.2 218.2)" />
<path d="M1022.5 216.0 Q1022.2 221.2 1026.2 222.3" fill="none" stroke="#2c2c2c" stroke-width="1.1"/>
<ellipse cx="1025.2" cy="238.0" rx="3.5" ry="4.6" fill="#9a9a9a" stroke="#1a1a1a" stroke-width="0.7" transform="rotate(-18 1025.2 238.0)" />
<path d="M1022.5 235.8 Q1022.2 241.0 1026.2 242.1" fill="none" stroke="#2c2c2c" stroke-width="1.1"/>
<ellipse cx="1043.0" cy="208.3" rx="3.5" ry="4.6" fill="#9a9a9a" stroke="#1a1a1a" stroke-width="0.7" transform="rotate(-18 1043.0 208.3)" />
<path d="M1040.3 206.1 Q1040.0 211.3 1044.0 212.4" fill="none" stroke="#2c2c2c" stroke-width="1.1"/>
<ellipse cx="1043.0" cy="228.1" rx="3.5" ry="4.6" fill="#9a9a9a" stroke="#1a1a1a" stroke-width="0.7" transform="rotate(-18 1043.0 228.1)" />
<path d="M1040.3 225.9 Q1040.0 231.1 1044.0 232.2" fill="none" stroke="#2c2c2c" stroke-width="1.1"/>
<ellipse cx="1043.0" cy="247.9" rx="3.5" ry="4.6" fill="#9a9a9a" stroke="#1a1a1a" stroke-width="0.7" transform="rotate(-18 1043.0 247.9)" />
<path d="M1040.3 245.7 Q1040.0 250.9 1044.0 252.0" fill="none" stroke="#2c2c2c" stroke-width="1.1"/>
<ellipse cx="1060.8" cy="218.2" rx="3.5" ry="4.6" fill="#9a9a9a" stroke="#1a1a1a" stroke-width="0.7" transform="rotate(-18 1060.8 218.2)" />
<path d="M1058.1 216.0 Q1057.8 221.2 1061.8 222.3" fill="none" stroke="#2c2c2c" stroke-width="1.1"/>
<ellipse cx="1060.8" cy="238.0" rx="3.5" ry="4.6" fill="#9a9a9a" stroke="#1a1a1a" stroke-width="0.7" transform="rotate(-18 1060.8 238.0)" />
<path d="M1058.1 235.8 Q1057.8 241.0 1061.8 242.1" fill="none" stroke="#2c2c2c" stroke-width="1.1"/>
<ellipse cx="1060.8" cy="257.8" rx="3.5" ry="4.6" fill="#9a9a9a" stroke="#1a1a1a" stroke-width="0.7" transform="rotate(-18 1060.8 257.8)" />
<path d="M1058.1 255.6 Q1057.8 260.8 1061.8 261.9" fill="none" stroke="#2c2c2c" stroke-width="1.1"/>
<g transform="rotate(-30 984 203)"><rect x="968.5" y="198.6" width="16" height="8.6" rx="2" fill="url(#brassH)"/><rect x="969.5" y="198.6" width="15" height="8.6" fill="url(#thrH)"/></g>
<path d="M983.5 195.5 L988 191.6 L993.5 193 L995.2 199.5 L992.5 205.5 L987 206.6 L983.3 203Z" fill="#d9b24e" stroke="#7a5c1c" stroke-width="0.6"/>
<path d="M988 191.6 L989.5 198 L995.2 199.5 M989.5 198 L987 206.6" fill="none" stroke="#9a7626" stroke-width="0.6"/>
<path d="M1097.1 219.5 L1163.8 181.7 L1204.2 203.2 L1132.6 241.7Z" fill="#fdfdfd" stroke="#333" stroke-width="0.8" stroke-linejoin="round" />
<path d="M1132.6 241.7 L1204.2 203.2 L1204.2 251.5 L1132.6 292.8Z" fill="#bcbcbc" stroke="#333" stroke-width="0.8" stroke-linejoin="round" />
<path d="M1097.1 219.5 L1132.6 241.7 L1132.6 292.8 L1097.1 272.0Z" fill="#f6f6f6" stroke="#333" stroke-width="0.8" stroke-linejoin="round" />
<ellipse cx="1180.9" cy="239.9" rx="5.2" ry="8" fill="#eeeeee" stroke="#333" stroke-width="0.8" transform="rotate(-25 1180.9 239.9)"/>
<path d="M1181 233.8 L1200 243.6 Q1204 246 1203.6 251 Q1202.5 255 1198.6 254.6 L1180.5 245.6Z" fill="#f6f6f6" stroke="#333" stroke-width="0.8"/>
<path d="M1182.5 237.5 L1197.5 245.4 L1197 252.8 L1182.5 245.2Z" fill="#dfe8f2" stroke="#8a94a0" stroke-width="0.5"/>
<ellipse cx="1200.7" cy="249.3" rx="3" ry="5" fill="#f4f4f4" stroke="#333" stroke-width="0.7" transform="rotate(-25 1200.7 249.3)"/>
<ellipse cx="1201" cy="249.6" rx="1.2" ry="2" fill="#d0d0d0" stroke="#555" stroke-width="0.4" transform="rotate(-25 1201 249.6)"/>
<ellipse cx="1162" cy="252.4" rx="5.2" ry="6" fill="#f2f2f2" stroke="#333" stroke-width="0.8" transform="rotate(-25 1162 252.4)"/>
<path d="M1158.8 256.5 Q1157 249.5 1163 247" fill="none" stroke="#888" stroke-width="0.8"/>
<ellipse cx="1144.1" cy="243.5" rx="6.2" ry="7.4" fill="url(#headG)" stroke="#4e3a10" stroke-width="0.8" transform="rotate(-25 1144.1 243.5)"/>
<path d="M1141.6 241.7 L1146.8999999999999 244.7 M1145.3 240.1 L1143.3 247.1" stroke="#4e3a10" stroke-width="1.4" fill="none"/>
<path d="M1138.8999999999999 246.0 Q1141.1 250.5 1146.6 250.0" stroke="#4e3a10" stroke-width="1.6" fill="none" opacity="0.7"/>
<ellipse cx="1144.1" cy="283.8" rx="6.2" ry="7.4" fill="url(#headG)" stroke="#4e3a10" stroke-width="0.8" transform="rotate(-25 1144.1 283.8)"/>
<path d="M1141.6 282.0 L1146.8999999999999 285.0 M1145.3 280.40000000000003 L1143.3 287.40000000000003" stroke="#4e3a10" stroke-width="1.4" fill="none"/>
<path d="M1138.8999999999999 286.3 Q1141.1 290.8 1146.6 290.3" stroke="#4e3a10" stroke-width="1.6" fill="none" opacity="0.7"/>
<path d="M1090.0 215.2 L1183.5 164.8 L1183.6 189.5 L1163.8 181.7 L1097.1 219.5 L1093.5 221.5Z" fill="#565656" stroke="#222" stroke-width="0.8" stroke-linejoin="round" />
<ellipse cx="1175.3" cy="178.4" rx="3.3" ry="4.3" fill="#8e8e8e" stroke="#1e1e1e" stroke-width="0.7" transform="rotate(-25 1175.3 178.4)" />
<path d="M1172.8 176.4 Q1172.6 181 1176 182.6" fill="none" stroke="#2c2c2c" stroke-width="1"/>
<path d="M1084.0 208.8 L1183.2 155.8 L1183.2 167.2 L1094.5 214.6 L1088.0 213.3Z" fill="url(#lipG2)" stroke="#2a2a2a" stroke-width="0.6" stroke-linejoin="round" />
<path d="M1078.5 204.0 L1183.0 147.7 L1183.0 155.5 L1078.5 211.8Z" fill="#8b8b8b" stroke="none" stroke-width="0" stroke-linejoin="round" />
<path d="M1076.0 202.7 L1182.4 145.4 L1182.4 147.8 L1076.0 205.1Z" fill="#a0a0a0" stroke="none" stroke-width="0" stroke-linejoin="round" />
<path d="M1077.0 205.0 L1183.0 148.2" fill="none" stroke="#2e2e2e" stroke-width="0.9" stroke-linejoin="round" stroke-linecap="round" />
<path d="M1084.0 208.8 L1183.0 155.8" fill="none" stroke="#3a3a3a" stroke-width="0.7" stroke-linejoin="round" stroke-linecap="round" />
<path d="M1179.6 147 L1182.4 145.4 Q1184 146 1184 148.5 V189.6 L1179.8 187.8Z" fill="#6a6a6a" stroke="#222" stroke-width="0.6"/>
<path d="M985.0 149.7 L1074.2 97.2 L1080.5 99.3 L990.0 152.5Z" fill="#767676" stroke="#2a2a2a" stroke-width="0.8" stroke-linejoin="round" />
<path d="M986.5 147.8 L1073.0 97.3" fill="none" stroke="#222" stroke-width="1.2" stroke-linejoin="round" stroke-linecap="round" />
<path d="M984.8 151.0 L1075.7 203.6 L1075.2 219.4 L983.3 166.2Z" fill="url(#bendSW)" stroke="#222" stroke-width="0.8" stroke-linejoin="round" />
<path d="M985.0 156.5 L1075.5 209.3" fill="none" stroke="#4a4a4a" stroke-width="0.7" stroke-linejoin="round" stroke-linecap="round" />
<path d="M1014 183.5 Q1021 182 1027 191" fill="none" stroke="#3a3a3a" stroke-width="0.7"/>
<path d="M986.5 150.9 L1093.0 93.5 L1182.2 145.5 L1075.7 202.9Z" fill="#8e8e8e" stroke="#222" stroke-width="0.9" stroke-linejoin="round" />
<path d="M1082.7 111.4 L1089.0 107.3 L1154.4 146.4 L1148.2 150.0Z" fill="#4e4e4e" stroke="#222" stroke-width="0.7" stroke-linejoin="round" />
<path d="M1086.3 113.5 L1088.6 112.0 L1150.2 148.6 L1148.2 150.0Z" fill="#8a8a8a" stroke="none" stroke-width="0" stroke-linejoin="round" />
<ellipse cx="1101.5" cy="120.0" rx="2.6" ry="1.8" fill="#3a3a3a" stroke="#222" stroke-width="0.4" />
<ellipse cx="1137.0" cy="141.2" rx="2.6" ry="1.8" fill="#3a3a3a" stroke="#222" stroke-width="0.4" />
<path d="M1105.0 125.5 L1134.0 142.5" fill="none" stroke="#b4b4b4" stroke-width="0.9" stroke-linejoin="round" stroke-linecap="round" />
<path d="M1012.9 150.8 L1019.2 147.2 L1084.7 186.8 L1078.4 190.4Z" fill="#4a4a4a" stroke="#222" stroke-width="0.7" stroke-linejoin="round" />
<path d="M1016.5 152.9 L1018.8 151.5 L1080.6 188.9 L1078.4 190.4Z" fill="#8a8a8a" stroke="none" stroke-width="0" stroke-linejoin="round" />
<path d="M1040.0 166.0 L1066.0 181.5" fill="none" stroke="#cfcfcf" stroke-width="1.1" stroke-linejoin="round" stroke-linecap="round" />
<path d="M1043.0 166.6 L1052.0 172.0" fill="none" stroke="#b99a3c" stroke-width="1.3" stroke-linejoin="round" stroke-linecap="round" />
<ellipse cx="1033.5" cy="160.8" rx="2.6" ry="1.8" fill="#333" stroke="#222" stroke-width="0.4" />
<path d="M1040.6 135.0 L1060.4 124.2 L1127.6 161.9 L1107.9 173.5Z" fill="#898989" stroke="#222" stroke-width="0.8" stroke-linejoin="round" />
<path d="M1040.6 135.0 L1060.4 124.2 L1127.6 161.9 L1124.5 163.6 L1060.6 127.6 L1043.8 136.8Z" fill="#4c4c4c" stroke="#222" stroke-width="0.5" stroke-linejoin="round" />
<path d="M1074.7 151.1 L1085.5 144.0 L1098.0 150.6 L1088.0 161.0Z" fill="#ffffff" stroke="#222" stroke-width="0.6" stroke-linejoin="round" />
<path d="M1093.5 147.6 L1098.0 150.6 L1098.0 156.0 L1093.5 153.2Z" fill="#5a5a5a" stroke="#222" stroke-width="0.4" stroke-linejoin="round" />
<path d="M1068.5 149.5 L1081.5 142.0" fill="none" stroke="#333" stroke-width="0.7" stroke-linejoin="round" stroke-linecap="round" />
<path d="M1074.7 151.1 L1068.5 147.5" fill="none" stroke="#333" stroke-width="0.7" stroke-linejoin="round" stroke-linecap="round" />
<path d="M1088.0 161.0 L1098.0 155.5 L1117.0 166.5" fill="none" stroke="#333" stroke-width="0.7" stroke-linejoin="round" stroke-linecap="round" />
<ellipse cx="1065.7" cy="117.9" rx="5.3" ry="3.2" fill="#6a6a6a" stroke="#2a2a2a" stroke-width="0.7" />
<path d="M1061.1 117.3 Q1065.7 113.5 1070.3 117.3" fill="none" stroke="#3a3a3a" stroke-width="1.1"/>
<ellipse cx="1083.7" cy="128.2" rx="5.3" ry="3.2" fill="#6a6a6a" stroke="#2a2a2a" stroke-width="0.7" />
<path d="M1079.1 127.6 Q1083.7 123.8 1088.3 127.6" fill="none" stroke="#3a3a3a" stroke-width="1.1"/>
<ellipse cx="1100.7" cy="138.0" rx="5.3" ry="3.2" fill="#6a6a6a" stroke="#2a2a2a" stroke-width="0.7" />
<path d="M1096.1 137.4 Q1100.7 133.6 1105.3 137.4" fill="none" stroke="#3a3a3a" stroke-width="1.1"/>
<ellipse cx="1134.8" cy="158.3" rx="5.3" ry="3.2" fill="#6a6a6a" stroke="#2a2a2a" stroke-width="0.7" />
<path d="M1130.2 157.7 Q1134.8 153.9 1139.4 157.7" fill="none" stroke="#3a3a3a" stroke-width="1.1"/>
<ellipse cx="1032.6" cy="138.0" rx="5.3" ry="3.2" fill="#6a6a6a" stroke="#2a2a2a" stroke-width="0.7" />
<path d="M1028.0 137.4 Q1032.6 133.6 1037.2 137.4" fill="none" stroke="#3a3a3a" stroke-width="1.1"/>
<ellipse cx="1065.7" cy="141.3" rx="5.3" ry="3.2" fill="#6a6a6a" stroke="#2a2a2a" stroke-width="0.7" />
<path d="M1061.1 140.7 Q1065.7 136.9 1070.3 140.7" fill="none" stroke="#3a3a3a" stroke-width="1.1"/>
<ellipse cx="1065.7" cy="157.9" rx="5.3" ry="3.2" fill="#6a6a6a" stroke="#2a2a2a" stroke-width="0.7" />
<path d="M1061.1 157.3 Q1065.7 153.5 1070.3 157.3" fill="none" stroke="#3a3a3a" stroke-width="1.1"/>
<ellipse cx="1083.7" cy="168.2" rx="5.3" ry="3.2" fill="#6a6a6a" stroke="#2a2a2a" stroke-width="0.7" />
<path d="M1079.1 167.6 Q1083.7 163.8 1088.3 167.6" fill="none" stroke="#3a3a3a" stroke-width="1.1"/>
<ellipse cx="1100.7" cy="161.0" rx="5.3" ry="3.2" fill="#6a6a6a" stroke="#2a2a2a" stroke-width="0.7" />
<path d="M1096.1 160.4 Q1100.7 156.6 1105.3 160.4" fill="none" stroke="#3a3a3a" stroke-width="1.1"/>
<ellipse cx="1100.7" cy="178.0" rx="5.3" ry="3.2" fill="#6a6a6a" stroke="#2a2a2a" stroke-width="0.7" />
<path d="M1096.1 177.4 Q1100.7 173.6 1105.3 177.4" fill="none" stroke="#3a3a3a" stroke-width="1.1"/>
<ellipse cx="1049.6" cy="148.8" rx="8" ry="5.2" fill="#9a7d30" stroke="#5e4816" stroke-width="0.6"/>
<ellipse cx="1049.6" cy="146.8" rx="8" ry="5.2" fill="url(#headL)" stroke="#6a5218" stroke-width="0.6"/>
<path d="M1046.6 144.4 Q1049.6 146 1052.8 144.2 M1049.0 143 L1050.1999999999998 146" stroke="#6a5016" stroke-width="0.9" fill="none"/>
<ellipse cx="1119.2" cy="148.8" rx="8" ry="5.2" fill="#9a7d30" stroke="#5e4816" stroke-width="0.6"/>
<ellipse cx="1119.2" cy="146.8" rx="8" ry="5.2" fill="url(#headL)" stroke="#6a5218" stroke-width="0.6"/>
<path d="M1116.2 144.4 Q1119.2 146 1122.4 144.2 M1118.6000000000001 143 L1119.8 146" stroke="#6a5016" stroke-width="0.9" fill="none"/>
<g transform="rotate(30 1084 212)"><rect x="1076.5" y="207.6" width="15" height="7.2" rx="2" fill="url(#brassH)"/><rect x="1077" y="207.6" width="14" height="7.2" fill="url(#thrH)"/></g>
<path d="M1075.5 219.0 L1075.2 262.0" fill="none" stroke="#222" stroke-width="0.8" stroke-linejoin="round" stroke-linecap="round" />
<path d="M1093.5 218.0 L1093.5 222.0" fill="none" stroke="#222" stroke-width="0.8" stroke-linejoin="round" stroke-linecap="round" />
<use href="#mot" transform="translate(146.5 84)"/>
<g transform="rotate(-30 1053 246)"><rect x="1037" y="241.6" width="17" height="9" rx="2" fill="url(#brassH)"/><rect x="1038" y="241.6" width="16" height="9" fill="url(#thrH)"/></g>
<path d="M1052.5 238 L1057 233 L1063 234 L1065.8 240.5 L1063 246.8 L1057 248.4 L1052.4 244.5Z" fill="#d9b24e" stroke="#7a5c1c" stroke-width="0.6"/>
<path d="M1057 233 L1058.8 240 L1065.8 240.5 M1058.8 240 L1057 248.4" fill="none" stroke="#9a7626" stroke-width="0.6"/>
<path d="M1053 253.5 Q1046 257.5 1041.5 263 Q1038 268 1037.5 280 L1033 284" fill="none" stroke="#1c1c1c" stroke-width="1.6" stroke-linecap="round"/>
<path d="M1030 286.4 L1036.5 284.8 Q1039.2 285 1039.6 288.5 Q1040.2 292.6 1043.2 293.3 L1048.2 292.2" fill="none" stroke="#e11818" stroke-width="2" stroke-linecap="round" stroke-linejoin="round"/>
<rect x="986" y="247.7" width="9" height="17" rx="2.4" fill="url(#brassV)"/><rect x="986" y="249" width="9" height="15.5" fill="url(#thr)"/>
<path d="M981.5 266 L985 263.4 L994.5 263.6 L998.6 266.4 V272.4 L994.5 275.6 L985.5 275.4 L981.5 272.2Z" fill="url(#nutG)" stroke="#7a5c1c" stroke-width="0.6"/>
<path d="M981.5 266 L985.5 269 L994.5 269.2 L998.6 266.4 M985.5 269 V275.4 M994.5 269.2 V275.6" fill="none" stroke="#9a7626" stroke-width="0.6"/>
<!--RIGHT_END--></g>
</svg>
</body>
</html>
